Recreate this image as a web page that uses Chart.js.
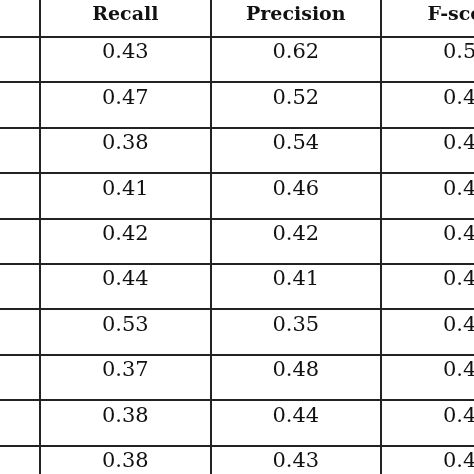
<!DOCTYPE html>
<html>
<head>
<meta charset="utf-8">
<script src="https://cdn.jsdelivr.net/npm/chart.js@4"></script>
<style>
  body { margin: 0; background: #fff; }
</style>
</head>
<body>
<canvas id="tabela" width="474" height="474"></canvas>
<script>
const colunas = ['Recall', 'Precision', 'F-score'];
const recall = [0.43, 0.47, 0.38, 0.41, 0.42, 0.44, 0.53, 0.37, 0.38, 0.38];
const precision = [0.62, 0.52, 0.54, 0.46, 0.42, 0.41, 0.35, 0.48, 0.44, 0.43];
const fscore = [0.51, 0.49, 0.45, 0.43, 0.42, 0.42, 0.42, 0.42, 0.41, 0.40];
const valores = [recall, precision, fscore];

// column i occupies [i+1, i+2] on x, row k occupies [k, k+1] on y
const datasets = valores.map((serie, i) => ({
  label: colunas[i],
  data: serie.map((v, k) => ({ x: i + 1.5, y: k + 0.35, texto: v.toFixed(2) })),
  pointRadius: 0
}));
datasets.push({
  label: 'cabecalho',
  data: colunas.map((c, i) => ({ x: i + 1.5, y: -0.48, texto: c, negrito: true })),
  pointRadius: 0
});

const textoPlugin = {
  id: 'texto',
  afterDatasetsDraw(chart) {
    const ctx = chart.ctx;
    ctx.save();
    ctx.fillStyle = '#111';
    ctx.textAlign = 'center';
    ctx.textBaseline = 'middle';
    chart.data.datasets.forEach((ds, di) => {
      chart.getDatasetMeta(di).data.forEach((pt, j) => {
        const d = ds.data[j];
        ctx.font = d.negrito ? 'bold 19px "DejaVu Serif"' : '21px "DejaVu Serif"';
        ctx.fillText(d.texto, pt.x, pt.y);
      });
    });
    ctx.restore();
  }
};

const grade = { color: '#222', lineWidth: 2, drawTicks: false };

new Chart(document.getElementById('tabela').getContext('2d'), {
  type: 'scatter',
  data: { datasets },
  plugins: [textoPlugin, {
    id: 'fundo',
    beforeDraw(chart) {
      chart.ctx.fillStyle = '#fff';
      chart.ctx.fillRect(0, 0, chart.width, chart.height);
    }
  }],
  options: {
    responsive: false,
    animation: false,
    layout: { padding: 0 },
    plugins: { legend: { display: false }, tooltip: { enabled: false } },
    scales: {
      x: {
        type: 'linear', min: 0.765, max: 3.545,
        ticks: { display: false, stepSize: 1, includeBounds: false },
        grid: grade, border: { display: false }
      },
      y: {
        type: 'linear', reverse: true, min: -0.815, max: 9.625,
        ticks: { display: false, stepSize: 1, includeBounds: false },
        grid: grade, border: { display: false }
      }
    }
  }
});
</script>
</body>
</html>
